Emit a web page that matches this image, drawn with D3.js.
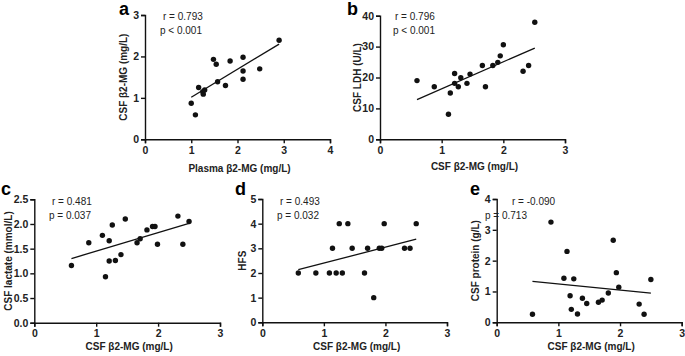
<!DOCTYPE html>
<html lang="en">
<head>
<meta charset="UTF-8">
<title>CSF b2-MG correlations</title>
<script src="https://cdn.jsdelivr.net/npm/d3@7"></script>
<style>
  body { margin: 0; background: #fff; }
  svg { display: block; font-family: "Liberation Sans", Arial, sans-serif; }
  .tick text { font-size: 10.5px; font-weight: bold; fill: #222; }
  .domain, .tick line { stroke: #111; stroke-width: 1.4px; }
</style>
</head>
<body>
<svg width="685" height="356"></svg>
<script>
// panel a: plasma b2-MG vs CSF b2-MG
var aX = [1.0, 1.09, 1.16, 1.25, 1.26, 1.29, 1.48, 1.54, 1.57, 1.74, 1.84, 2.12, 2.12, 2.12, 2.48, 2.9];
var aY = [0.87, 0.59, 1.25, 1.15, 1.09, 1.19, 1.93, 1.81, 1.39, 1.30, 1.89, 1.98, 1.65, 1.45, 1.70, 2.39];
// panel b: CSF b2-MG vs CSF LDH
var bX = [0.6, 0.88, 1.11, 1.14, 1.21, 1.21, 1.27, 1.31, 1.41, 1.46, 1.66, 1.71, 1.83, 1.91, 1.95, 2.0, 2.32, 2.41, 2.51];
var bY = [19, 17, 8.1, 15, 21.3, 18.1, 17, 19.9, 18.1, 21.1, 23.9, 17, 23.9, 24.9, 27, 30.6, 22, 23.9, 37.9];
// panels c-e share the CSF b2-MG values
var csfX = [0.6, 0.88, 1.10, 1.15, 1.21, 1.21, 1.26, 1.31, 1.40, 1.47, 1.66, 1.71, 1.82, 1.91, 1.95, 1.99, 2.32, 2.40, 2.50];
var cY = [1.16, 1.62, 1.77, 0.93, 1.66, 1.25, 1.98, 1.26, 1.38, 2.10, 1.62, 1.70, 1.88, 1.95, 1.95, 1.59, 2.16, 1.59, 2.05];
var dX = [0.585, 0.87, 1.09, 1.14, 1.20, 1.25, 1.30, 1.39, 1.46, 1.66, 1.71, 1.81, 1.90, 1.94, 1.98, 2.31, 2.40, 2.50];
var dY = [2, 2, 2, 3, 2, 4, 2, 4, 3, 2, 3, 1, 3, 3, 4, 3, 3, 4];
var eX = [0.58, 0.88, 1.09, 1.14, 1.19, 1.21, 1.25, 1.31, 1.39, 1.46, 1.65, 1.71, 1.81, 1.89, 1.94, 1.98, 2.31, 2.39, 2.50];
var eY = [0.26, 3.25, 1.43, 2.30, 0.86, 0.42, 1.41, 0.27, 0.78, 0.61, 0.65, 0.72, 0.95, 2.66, 1.61, 1.14, 0.59, 0.26, 1.39];

var yTicksA = [0, 1, 2, 3], xTicksA = [0, 1, 2, 3, 4];
var yTicksB = [0, 10, 20, 30, 40];
var yTicksC = [0, 0.5, 1, 1.5, 2, 2.5];
var yTicksD = [0, 1, 2, 3, 4, 5];
var yTicksE = [0, 1, 2, 3, 4];
var xTicks3 = [0, 1, 2, 3];

var panels = [
  { id: "a", xs: aX, ys: aY, xMax: 4, yMax: 3, xt: xTicksA, yt: yTicksA, yFmt: d3.format("d"),
    xLabel: "Plasma \u03b22-MG (mg/L)", yLabel: "CSF \u03b22-MG (mg/L)", r: "r = 0.793", p: "p < 0.001",
    box: [145, 330, 15, 139.3], letter: [119, 15], yLab: 123, xLab: 172, rPos: [163, 20], pPos: [160, 34] },
  { id: "b", xs: bX, ys: bY, xMax: 3, yMax: 40, xt: xTicks3, yt: yTicksB, yFmt: d3.format("d"),
    xLabel: "CSF \u03b22-MG (mg/L)", yLabel: "CSF LDH (U/L)", r: "r = 0.796", p: "p < 0.001",
    box: [380, 565, 15.7, 139.3], letter: [347, 15], yLab: 357, xLab: 170, rPos: [395, 20], pPos: [393, 34] },
  { id: "c", xs: csfX, ys: cY, xMax: 3, yMax: 2.5, xt: xTicks3, yt: yTicksC, yFmt: d3.format(".1f"),
    xLabel: "CSF \u03b22-MG (mg/L)", yLabel: "CSF lactate (mmol/L)", r: "r = 0.481", p: "p = 0.037",
    box: [34.3, 220, 199.3, 322.7], letter: [1, 195], yLab: 8, xLab: 350, rPos: [52, 205], pPos: [49, 219] },
  { id: "d", xs: dX, ys: dY, xMax: 3, yMax: 5, xt: xTicks3, yt: yTicksD, yFmt: d3.format("d"),
    xLabel: "CSF \u03b22-MG (mg/L)", yLabel: "HFS", r: "r = 0.493", p: "p = 0.032",
    box: [262.3, 447, 199, 322.3], letter: [235, 195], yLab: 242, xLab: 350, rPos: [280, 205], pPos: [277, 219] },
  { id: "e", xs: eX, ys: eY, xMax: 3, yMax: 4, xt: xTicks3, yt: yTicksE, yFmt: d3.format("d"),
    xLabel: "CSF \u03b22-MG (mg/L)", yLabel: "CSF protein (g/L)", r: "r = -0.090", p: "p = 0.713",
    box: [496.7, 681.7, 199, 322.3], letter: [470, 195], yLab: 475, xLab: 350, rPos: [512, 205], pPos: [485, 219] }
];

var svg = d3.select("svg");

// least squares fit over the data range
function fit(xs, ys) {
  var mx = d3.mean(xs), my = d3.mean(ys);
  var sxy = d3.sum(xs, function (x, i) { return (x - mx) * (ys[i] - my); });
  var sxx = d3.sum(xs, function (x) { return (x - mx) * (x - mx); });
  var b = sxy / sxx, a = my - b * mx;
  var lo = d3.min(xs), hi = d3.max(xs);
  return [[lo, a + b * lo], [hi, a + b * hi]];
}

panels.forEach(function (p) {
  var x = d3.scaleLinear().domain([0, p.xMax]).range([p.box[0], p.box[1]]);
  var y = d3.scaleLinear().domain([0, p.yMax]).range([p.box[3], p.box[2]]);
  var g = svg.append("g");

  g.append("g").attr("transform", "translate(0," + p.box[3] + ")")
    .call(d3.axisBottom(x).tickValues(p.xt).tickFormat(d3.format("d")).tickSizeOuter(0).tickSize(4).tickPadding(3));
  g.append("g").attr("transform", "translate(" + p.box[0] + ",0)")
    .call(d3.axisLeft(y).tickValues(p.yt).tickFormat(p.yFmt).tickSizeOuter(0).tickSize(4).tickPadding(2));

  var pts = p.xs.map(function (v, i) { return [v, p.ys[i]]; });
  g.selectAll("circle.pt").data(pts).enter().append("circle")
    .attr("class", "pt")
    .attr("cx", function (d) { return x(d[0]); })
    .attr("cy", function (d) { return y(d[1]); })
    .attr("r", 2.7)
    .attr("fill", "#111");

  g.append("path")
    .datum(fit(p.xs, p.ys))
    .attr("d", d3.line().x(function (d) { return x(d[0]); }).y(function (d) { return y(d[1]); }))
    .attr("stroke", "#111").attr("stroke-width", 1.3).attr("fill", "none");

  g.append("text").attr("x", p.letter[0]).attr("y", p.letter[1])
    .attr("font-size", 18).attr("font-weight", "bold").text(p.id);

  g.append("text")
    .attr("transform", "translate(" + p.yLab + "," + ((p.box[2] + p.box[3]) / 2) + ") rotate(-90)")
    .attr("text-anchor", "middle").attr("dominant-baseline", "central")
    .attr("font-size", 10).attr("font-weight", "bold").attr("fill", "#222").text(p.yLabel);

  g.append("text").attr("x", (p.box[0] + p.box[1]) / 2 + 2).attr("y", p.xLab)
    .attr("text-anchor", "middle")
    .attr("font-size", 10).attr("font-weight", "bold").attr("fill", "#222").text(p.xLabel);

  g.append("text").attr("x", p.rPos[0]).attr("y", p.rPos[1])
    .attr("font-size", 10).attr("fill", "#222").text(p.r);
  g.append("text").attr("x", p.pPos[0]).attr("y", p.pPos[1])
    .attr("font-size", 10).attr("fill", "#222").text(p.p);
});
</script>
</body>
</html>
